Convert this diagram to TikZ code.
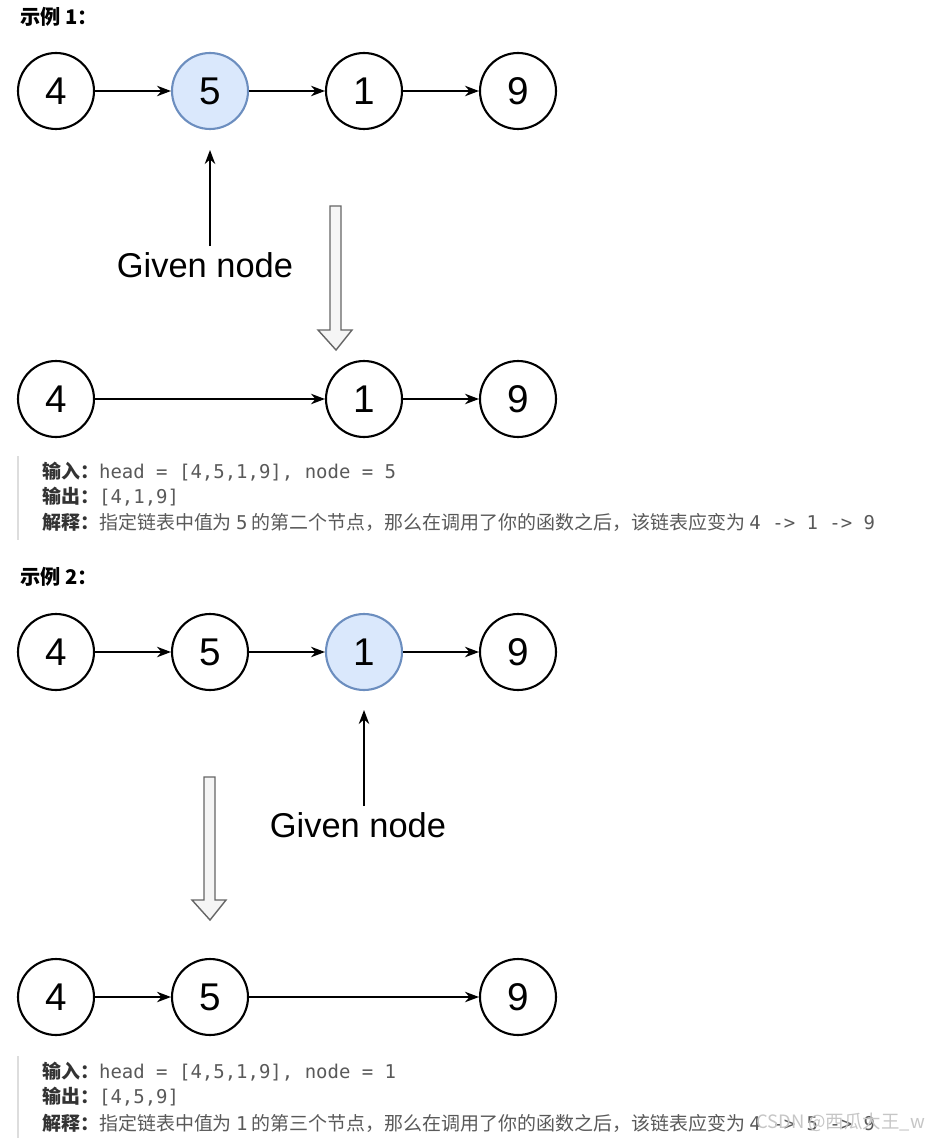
\documentclass[tikz,border=0pt]{standalone}
\usepackage{fontspec}
\setmainfont{Liberation Sans}
\newfontfamily\cjk{Noto Sans CJK SC}
\newfontfamily\mono{DejaVu Sans Mono}
\usetikzlibrary{arrows.meta}
\definecolor{given}{HTML}{DAE8FC}
\definecolor{givenedge}{HTML}{6C8EBF}
\definecolor{txt}{HTML}{595959}
\definecolor{bar}{HTML}{DDDDDD}
\begin{document}
\begin{tikzpicture}[x=0.02cm,y=-0.02cm,
  ln/.style={circle, draw, line width=1.2pt, minimum size=1.52cm, inner sep=0pt, font=\fontsize{22}{22}\selectfont},
  sel/.style={ln, fill=given, draw=givenedge},
  nxt/.style={-{Stealth[length=8pt,width=6pt]}, line width=0.8pt},
  hollow/.style={draw=gray!80!black, fill=gray!8, line width=0.8pt},
  lbl/.style={font=\fontsize{19.6}{20}\selectfont},
  head/.style={anchor=west, font=\cjk\bfseries\fontsize{11.5}{12}\selectfont},
  body/.style={anchor=west, text=txt, font=\fontsize{10.8}{12}\selectfont}]
\useasboundingbox (0,0) rectangle (931,1138);

% example 1
\node[head] (h1) at (14,17) {示例 1：};
\node[ln] (a1) at (56,91) {4};
\node[sel] (a2) at (210,91) {5};
\node[ln] (a3) at (364,91) {1};
\node[ln] (a4) at (518,91) {9};
\draw[nxt] (a1) -- (a2);
\draw[nxt] (a2) -- (a3);
\draw[nxt] (a3) -- (a4);
\node[lbl] (g1) at (205,265) {Given node};
\draw[nxt] (g1.north -| a2) -- (a2.south |- 0,150);
\draw[hollow] (330,206) -- (341,206) -- (341,330) -- (352,330) -- (336,350) -- (318,330) -- (330,330) -- cycle;
\node[ln] (b1) at (56,399) {4};
\node[ln] (b3) at (364,399) {1};
\node[ln] (b4) at (518,399) {9};
\draw[nxt] (b1) -- (b3);
\draw[nxt] (b3) -- (b4);

\draw[bar, line width=1.5pt] (18,456) -- (18,540);
\node[body] (i1) at (36,472) {{\cjk\bfseries\color{black!80}输入：}{\mono head = [4,5,1,9], node = 5}};
\node[body] (o1) at (36,497) {{\cjk\bfseries\color{black!80}输出：}{\mono [4,1,9]}};
\node[body] (e1) at (36,522) {{\cjk\bfseries\color{black!80}解释：}{\cjk 指定链表中值为 }{\mono 5}{\cjk\ 的第二个节点，那么在调用了你的函数之后，该链表应变为 }{\mono 4 -> 1 -> 9}};

% example 2
\node[head] (h2) at (14,577) {示例 2：};
\node[ln] (c1) at (56,652) {4};
\node[ln] (c2) at (210,652) {5};
\node[sel] (c3) at (364,652) {1};
\node[ln] (c4) at (518,652) {9};
\draw[nxt] (c1) -- (c2);
\draw[nxt] (c2) -- (c3);
\draw[nxt] (c3) -- (c4);
\node[lbl] (g2) at (358,825) {Given node};
\draw[nxt] (g2.north -| c3) -- (c3.south |- 0,710);
\draw[hollow] (204,777) -- (215,777) -- (215,900) -- (226,900) -- (210,920) -- (192,900) -- (204,900) -- cycle;
\node[ln] (d1) at (56,997) {4};
\node[ln] (d2) at (210,997) {5};
\node[ln] (d4) at (518,997) {9};
\draw[nxt] (d1) -- (d2);
\draw[nxt] (d2) -- (d4);

\draw[bar, line width=1.5pt] (18,1056) -- (18,1138);
\node[body] (i2) at (36,1072) {{\cjk\bfseries\color{black!80}输入：}{\mono head = [4,5,1,9], node = 1}};
\node[body] (o2) at (36,1097) {{\cjk\bfseries\color{black!80}输出：}{\mono [4,5,9]}};
\node[body] (e2) at (36,1123) {{\cjk\bfseries\color{black!80}解释：}{\cjk 指定链表中值为 }{\mono 1}{\cjk\ 的第三个节点，那么在调用了你的函数之后，该链表应变为 }{\mono 4 -> 5 -> 9}};
\node[anchor=east, text=gray!45, font=\cjk\fontsize{10.5}{11}\selectfont] (wm) at (931,1122) {CSDN @西瓜大王\_w};
\end{tikzpicture}
\end{document}
